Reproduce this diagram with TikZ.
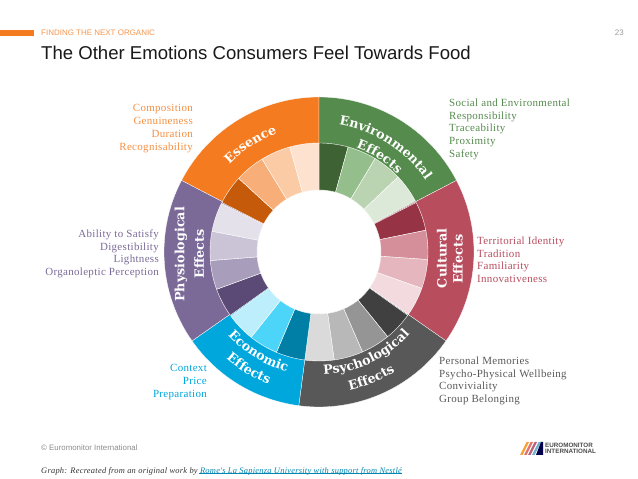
\documentclass[tikz,border=0pt]{standalone}
\usepackage{fontspec}
\usetikzlibrary{decorations.text}
\setmainfont{Liberation Sans}
\newfontfamily\serifface[LetterSpace=3]{Liberation Serif}
\newfontfamily\ringface{DejaVu Serif}
\definecolor{orangemain}{HTML}{F47B20}
\definecolor{greenmain}{HTML}{568B4E}
\definecolor{redmain}{HTML}{B84D5E}
\definecolor{graymain}{HTML}{585858}
\definecolor{bluemain}{HTML}{00A7DC}
\definecolor{purplemain}{HTML}{7B6A98}
\tikzset{
  sector/.style={draw=white,line width=0.3pt},
  slice/.style={draw=white,line width=0.4pt},
  sidelabel/.style={font=\serifface\fontsize{11}{12.8}\selectfont,inner sep=0pt},
  ringlabel/.style={font=\ringface\bfseries\fontsize{12.8}{15}\selectfont,text=white,inner sep=0pt},
}
\newcommand{\ringarc}[4]{% radius, from, to, text
  \path[decorate,decoration={text along path,text align=center,
    text={|\ringface\bfseries\fontsize{12.8}{15}\selectfont\color{white}|#4}}]
    (#2:#1) arc[start angle=#2,end angle=#3,radius=#1];}
\begin{document}
\begin{tikzpicture}[x=1bp,y=1bp]
  \useasboundingbox (0,0) rectangle (638,479);
  % header
  \fill[orangemain] (0,443) rectangle (34,449);
  \node[anchor=west,inner sep=0pt,text=orangemain!80!white,font=\fontsize{8}{9}\selectfont] (kicker) at (41,446) {FINDING THE NEXT ORGANIC};
  \node[anchor=west,inner sep=0pt,font=\fontsize{18.65}{22}\selectfont,text=black!90] (title) at (41,426) {The Other Emotions Consumers Feel Towards Food};
  \node[anchor=east,inner sep=0pt,text=black!40,font=\fontsize{8}{9}\selectfont] (page) at (624,446) {23};
  % ring
  \begin{scope}[shift={(319,227)}]
    \foreach \from/\to/\col in {90/152.5/orangemain,90/27.5/greenmain,27.5/-35/redmain,-35/-97.5/graymain,-97.5/-145/bluemain,215/152.5/purplemain}
      \filldraw[sector,fill=\col] (\from:62) -- (\from:155) arc[start angle=\from,end angle=\to,radius=155] -- (\to:62) arc[start angle=\to,end angle=\from,radius=62] -- cycle;
    \foreach \from/\to/\col in {
      90/74.5/3E6234,74.5/59/94BF8C,59/43.5/BAD4B2,43.5/28/DDE9D8,
      27/11.5/963345,11.5/-4/D58F9B,-4/-19.5/E5B6BD,-19.5/-35/F2DADE,
      -35.5/-51/404040,-51/-66.5/959595,-66.5/-82/B8B8B8,-82/-97.5/DADADA,
      -97.5/-113/007FA6,-113/-128.5/4DD4F9,-128.5/-144/BDEEFC,
      215.5/200/5A4A75,200/184.5/A89DBB,184.5/169/CBC4D6,169/153.5/E4E1EB,
      153/137.5/C55A0B,137.5/121.5/F7AE78,121.5/105.5/FBCBA6,105.5/90/FCE2CF}{
      \definecolor{slicecol}{HTML}{\col}
      \filldraw[slice,fill=slicecol] (\from:62) -- (\from:109) arc[start angle=\from,end angle=\to,radius=109] -- (\to:62) arc[start angle=\to,end angle=\from,radius=62] -- cycle;
    }
    \fill[white] (0,0) circle (61.5);
    % ring texts
    \ringarc{125.5}{165}{80}{Essence}
    \ringarc{128.5}{100}{15}{Environmental}
    \ringarc{110.5}{100}{15}{Effects}
    \ringarc{122.5}{-115}{-15}{Psychological}
    \ringarc{141.5}{-110}{-25}{Effects}
    \ringarc{123.5}{193.7}{283.7}{Economic}
    \ringarc{141.5}{199}{279}{Effects}
    \node[ringlabel,rotate=90] (cultural) at (-3:123) {Cultural};
    \node[ringlabel,rotate=90] (culturaleff) at (-3:139) {Effects};
    \node[ringlabel,rotate=90] (physio) at (181:138) {Physiological};
    \node[ringlabel,rotate=90] (physioeff) at (181:120) {Effects};
  \end{scope}
  % side labels
  \node[sidelabel,text=orangemain!85!white,align=right,anchor=north east] (essencelist) at (193,374.5) {Composition\\Genuineness\\Duration\\Recognisability};
  \node[sidelabel,text=greenmain,align=left,anchor=north west] (envlist) at (449,380.5) {Social and Environmental\\Responsibility\\Traceability\\Proximity\\Safety};
  \node[sidelabel,text=redmain,align=left,anchor=north west] (cultlist) at (477,242.5) {Territorial Identity\\Tradition\\Familiarity\\Innovativeness};
  \node[sidelabel,text=graymain,align=left,anchor=north west] (psychlist) at (439,122.5) {Personal Memories\\Psycho-Physical Wellbeing\\Conviviality\\Group Belonging};
  \node[sidelabel,text=bluemain,align=right,anchor=north east] (econlist) at (207,114.5) {Context\\Price\\Preparation};
  \node[sidelabel,text=purplemain,align=right,anchor=north east] (physlist) at (159,249.5) {Ability to Satisfy\\Digestibility\\Lightness\\Organoleptic Perception};
  % footer
  \node[anchor=west,inner sep=0pt,text=black!45,font=\fontsize{7.9}{9}\selectfont] (copy) at (41,31) {© Euromonitor International};
  \node[anchor=west,inner sep=0pt,font=\serifface\itshape\fontsize{8.45}{10}\selectfont,text=black!80] (source) at (41,8) {Graph: Recreated from an original work by \textcolor{bluemain!80!black}{Rome's La Sapienza University with support from Nestlé}};
  \draw[bluemain!80!black,line width=0.3pt] (199,5.5) -- (402,5.5);
  % logo
  \foreach \xa/\col in {520/F4A13A,524/E0736A,528/B8617D,532/6FB1C9}{
    \definecolor{stripecol}{HTML}{\col}
    \fill[stripecol] (\xa,24) -- (\xa+2.5,24) -- (\xa+9,37) -- (\xa+6.5,37) -- cycle;
  }
  \fill[black!70!blue] (536,24) -- (543,24) -- (543,37) -- (541,37) -- cycle;
  \node[anchor=west,inner sep=0pt,align=left,text=black!70,font=\bfseries\fontsize{6.3}{6.6}\selectfont] (logotext) at (545,30.5) {EUROMONITOR\\INTERNATIONAL};
\end{tikzpicture}
\end{document}
